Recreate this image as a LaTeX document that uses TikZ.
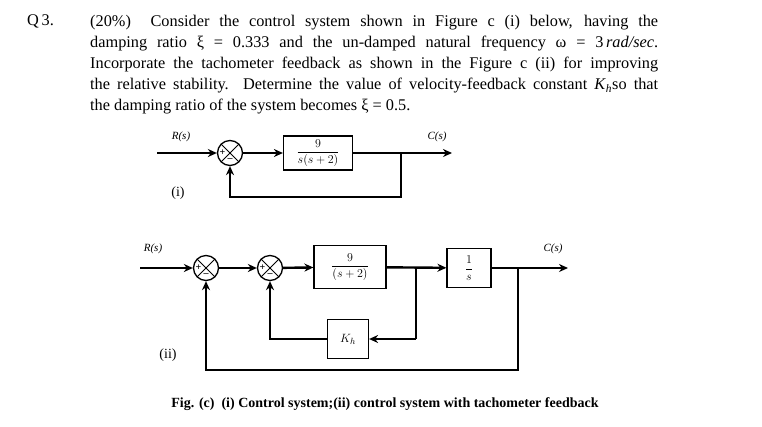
\documentclass[tikz,border=0pt]{standalone}
\usepackage{amsmath}
\usepackage{fontspec}
\setmainfont{Liberation Serif}
\usetikzlibrary{arrows.meta, calc}
\tikzset{>=Stealth,
  sig/.style={line width=2.4pt, -{Stealth[length=9pt,width=8pt]}},
  wire/.style={line width=2.4pt},
  blk/.style={draw, line width=1.2pt, inner sep=0pt, font=\fontsize{13}{14}\selectfont},
  sumj/.style={draw, circle, line width=1.3pt, minimum size=25pt, inner sep=0pt,
    path picture={
      \draw[line width=1pt] (path picture bounding box.north west) -- (path picture bounding box.south east)
        (path picture bounding box.north east) -- (path picture bounding box.south west);
      \node[font=\fontsize{10}{10}\selectfont\bfseries, inner sep=0pt] at ($(path picture bounding box.center)+(-7.5pt,0)$) {+};
      \node[font=\fontsize{10}{10}\selectfont\bfseries, inner sep=0pt] at ($(path picture bounding box.center)+(0,-7.5pt)$) {–};
    }},
  lbl/.style={font=\fontsize{11}{12}\selectfont\itshape}
}
\begin{document}
\begin{tikzpicture}[x=1pt, y=-1pt]
\useasboundingbox (0,0) rectangle (762,426);

% question text
\node[anchor=north west, inner sep=0pt, font=\fontsize{16.3}{21}\selectfont] (qno) at (27,15) {Q\,3.};
\node[anchor=north west, inner sep=0pt, text width=568pt, align=justify,
  font=\fontsize{16.3}{21}\selectfont] (qtxt) at (90,15) {%
  (20\%) \ Consider the control system shown in Figure c (i) below, having the\linebreak
  damping ratio ξ = 0.333 and the un-damped natural frequency ω = 3\,\textit{rad/sec}.\linebreak
  Incorporate the tachometer feedback as shown in the Figure c (ii) for improving\linebreak
  the relative stability. Determine the value of velocity-feedback constant \textit{K}\textsubscript{\textit{h}}so that\linebreak
  the damping ratio of the system becomes ξ = 0.5.};

% (i) plain loop
\coordinate (inA) at (157,153);
\node[sumj] (sA) at (230,153) {};
\node[blk, minimum width=69pt, minimum height=34pt] (gA) at (318,153) {$\dfrac{9}{s(s+2)}$};
\coordinate (outA) at (452,153);
\coordinate (brA) at (401,153);
\coordinate (fbA) at (401,197);
\node[lbl] (rA) at (181,137) {R(s)};
\node[lbl] (cA) at (437,137) {C(s)};
\node[font=\fontsize{14}{14}\selectfont] (tA) at (178,193) {(i)};
\draw[sig] (inA) -- (sA);
\draw[sig] (sA) -- (gA);
\draw[sig] (gA) -- (outA);
\draw[sig] (brA) -- (fbA) -| (sA);

% (ii) loop with tachometer
\coordinate (inB) at (140,268);
\node[sumj] (sB) at (206,268) {};
\node[sumj] (sC) at (270,268) {};
\node[blk, minimum width=72pt, minimum height=43pt] (gB) at (350,267) {$\dfrac{9}{(s+2)}$};
\node[blk, minimum width=44pt, minimum height=39pt] (iB) at (469,268) {$\dfrac{1}{s}$};
\node[blk, minimum width=41pt, minimum height=39pt] (kB) at (348,339) {$K_h$};
\coordinate (brB) at (416,268);
\coordinate (tB) at (416,339);
\coordinate (brC) at (518,268);
\coordinate (fbB) at (518,370);
\coordinate (outB) at (568,268);
\node[lbl] (rB) at (153,249) {R(s)};
\node[lbl] (cB) at (553,249) {C(s)};
\node[font=\fontsize{14}{14}\selectfont] (tB2) at (168,355) {(ii)};
\draw[sig] (inB) -- (sB);
\draw[sig] (sB) -- (sC);
\draw[sig] (sC) -- (gB);
\draw[sig] (gB) -- (iB);
\draw[sig] (iB) -- (outB);
\draw[wire] (brB) -- (tB);
\draw[sig] (tB) -- (kB);
\draw[sig] (kB) -| (sC);
\draw[sig] (brC) -- (fbB) -| (sB);

% caption
\node[font=\fontsize{14}{15}\selectfont\bfseries] (cap) at (385,404)
  {Fig. (c) \ (i) Control system;(ii) control system with tachometer feedback};
\end{tikzpicture}
\end{document}
